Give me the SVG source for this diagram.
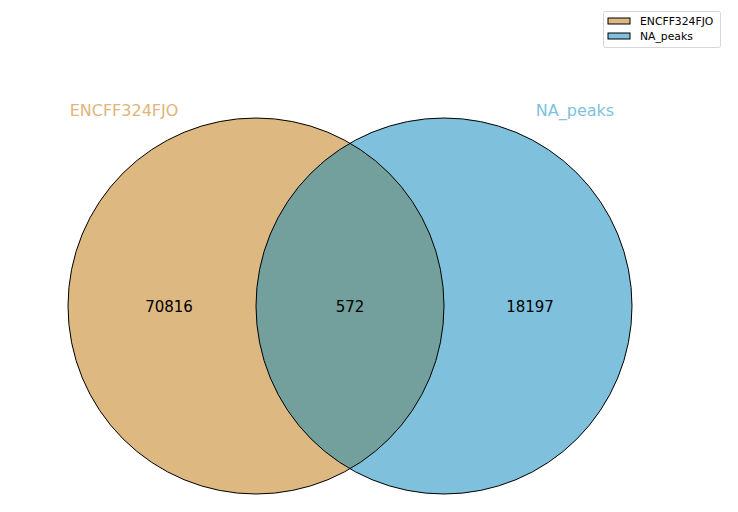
<svg xmlns="http://www.w3.org/2000/svg" width="738" height="512" viewBox="0 0 738 512">
<style>
text{font-family:"DejaVu Sans","Liberation Sans",sans-serif}
.num{font-size:15px;fill:#000;text-anchor:middle}
.set{font-size:16px}
.leg{font-size:10.8px;fill:#000}
.outline{fill:none;stroke:#000;stroke-width:1}
</style>
<rect width="738" height="512" fill="#fff"/>
<g id="set-left">
<circle cx="256" cy="306" r="188" fill="#ddb881"/>
</g>
<g id="set-right">
<circle cx="444" cy="306" r="188" fill="#7fc1dc"/>
</g>
<g id="overlap">
<path d="M350,143.2 A188,188 0 0,1 350,468.8 A188,188 0 0,1 350,143.2 Z" fill="#739f9c"/>
</g>
<g id="outlines">
<circle class="outline" cx="256" cy="306" r="188"/>
<circle class="outline" cx="444" cy="306" r="188"/>
</g>
<g id="labels">
<text class="set" x="124" y="116" text-anchor="middle" fill="#e0b47a">ENCFF324FJO</text>
<text class="set" x="575" y="116" text-anchor="middle" fill="#80c2dd">NA_peaks</text>
<text class="num" x="169" y="312">70816</text>
<text class="num" x="350" y="312">572</text>
<text class="num" x="530" y="312">18197</text>
</g>
<g id="legend">
<rect x="603.5" y="11.5" width="117" height="36" rx="2" fill="#fff" fill-opacity="0.8" stroke="#d6d6d6"/>
<rect x="608" y="18" width="22" height="6" fill="#ddb881" stroke="#000"/>
<rect x="608" y="33" width="22" height="6" fill="#7fc1dc" stroke="#000"/>
<text class="leg" x="640" y="25">ENCFF324FJO</text>
<text class="leg" x="640" y="40">NA_peaks</text>
</g>
</svg>
